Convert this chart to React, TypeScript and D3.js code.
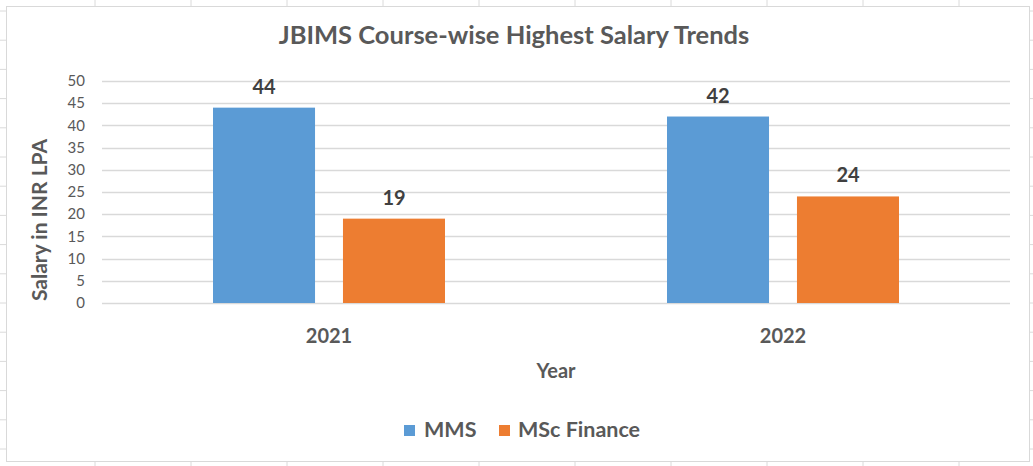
import React from 'react';
import * as d3 from 'd3';

const years = ['2021', '2022'];
const seriesNames = ['MMS', 'MSc Finance'];
const mmsValues = [44, 42];
const mscFinanceValues = [19, 24];
const yTicks = [0, 5, 10, 15, 20, 25, 30, 35, 40, 45, 50];

const W = 1033;
const H = 466;
const COLORS = ['#5B9BD5', '#ED7D31'];
const FONT = 'Lato, "Open Sans", sans-serif';

export default function App() {
  const plot = { left: 102, right: 1010, top: 81, bottom: 303 };

  const x0 = d3.scaleBand<string>()
    .domain(years)
    .range([plot.left, plot.right])
    .paddingInner(0.489)
    .paddingOuter(0.2445);

  const x1 = d3.scaleBand<string>()
    .domain(seriesNames)
    .range([0, x0.bandwidth()])
    .paddingInner(0.215);

  const y = d3.scaleLinear().domain([0, 50]).range([plot.bottom, plot.top]);

  const series = [mmsValues, mscFinanceValues];

  // spreadsheet cells behind the chart object
  const colLines = d3.range(0, 11).map(k => 95 + k * 96);
  const rowLines = d3.range(0, 17).map(k => 11 + k * 29.2);

  return (
    <svg width={W} height={H} style={{ position: 'fixed', left: 0, top: 0, background: '#fff' }}>
      {colLines.map(cx => (
        <line key={'c' + cx} x1={cx} x2={cx} y1={0} y2={H} stroke="#dadada" />
      ))}
      {rowLines.map(ry => (
        <line key={'r' + ry} x1={0} x2={W} y1={ry} y2={ry} stroke="#dadada" />
      ))}
      <rect x={6.5} y={6.5} width={1023} height={455} fill="#fff" stroke="#d9d9d9" />

      <text x={514} y={44} textAnchor="middle" fontFamily={FONT} fontWeight={700}
        fontSize={25.5} fill="#595959">
        JBIMS Course-wise Highest Salary Trends
      </text>

      {yTicks.map(t => (
        <g key={t}>
          <line x1={plot.left} x2={plot.right} y1={Math.round(y(t)) + 0.5} y2={Math.round(y(t)) + 0.5}
            stroke="#d9d9d9" strokeWidth={1.5} />
          <text x={85} y={y(t)} dy="0.35em" textAnchor="end" fontFamily={FONT}
            fontSize={15} fill="#595959">{t}</text>
        </g>
      ))}

      {years.map((yr, i) => (
        <g key={yr} transform={`translate(${x0(yr)},0)`}>
          {seriesNames.map((s, j) => {
            const v = series[j][i];
            const bx = x1(s) ?? 0;
            return (
              <g key={s}>
                <rect x={bx} y={y(v)} width={x1.bandwidth()} height={y(0) - y(v)} fill={COLORS[j]} />
                <text x={bx + x1.bandwidth() / 2} y={y(v) - 14} textAnchor="middle"
                  fontFamily={FONT} fontWeight={700} fontSize={20} fill="#404040">{v}</text>
              </g>
            );
          })}
          <text x={x0.bandwidth() / 2} y={343} textAnchor="middle" fontFamily={FONT}
            fontWeight={700} fontSize={20} fill="#595959">{yr}</text>
        </g>
      ))}

      <text x={556} y={378} textAnchor="middle" fontFamily={FONT} fontWeight={700}
        fontSize={20} fill="#595959">Year</text>

      <text transform="translate(47,220) rotate(-90)" textAnchor="middle" fontFamily={FONT}
        fontWeight={700} fontSize={21} fill="#595959">Salary in INR LPA</text>

      <g>
        <rect x={404} y={425} width={11} height={11} fill={COLORS[0]} />
        <text x={424} y={437} fontFamily={FONT} fontWeight={700} fontSize={21.5} fill="#595959">
          {seriesNames[0]}
        </text>
        <rect x={499} y={425} width={11} height={11} fill={COLORS[1]} />
        <text x={518} y={437} fontFamily={FONT} fontWeight={700} fontSize={21.5} fill="#595959">
          {seriesNames[1]}
        </text>
      </g>
    </svg>
  );
}
